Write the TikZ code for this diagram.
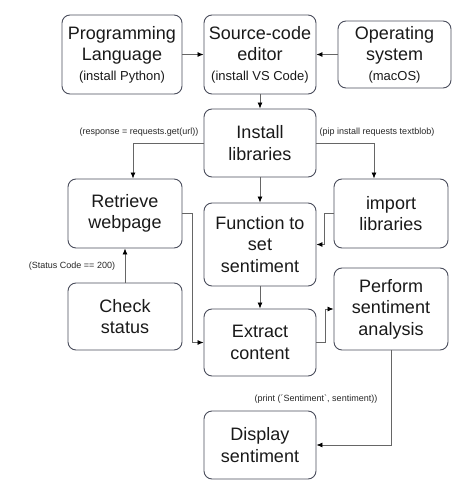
\documentclass[tikz,border=0pt]{standalone}
\usepackage{fontspec}
\setmainfont{Liberation Sans}
\newfontfamily\codefont{Liberation Sans}[Ligatures=TeXOff]
\usepackage{xcolor}
\usetikzlibrary{arrows.meta}
\usetikzlibrary{calc}
\definecolor{boxline}{HTML}{4A4D5C}
\definecolor{wiregray}{HTML}{666666}
\tikzstyle{block}=[draw=boxline, line width=0.9pt, rounded corners=8pt, align=center, inner sep=0pt, text=black!90, font=\fontsize{18}{21.5}\selectfont]
\tikzstyle{link}=[draw=wiregray, line width=0.8pt, -{Latex[length=6pt,width=5pt,color=black]}]
\tikzstyle{codelabel}=[inner sep=0pt, text=black!85, font=\codefont\fontsize{9}{11}\selectfont]
\newcommand{\smallline}[1]{\\[-2pt]{\fontsize{13}{15}\selectfont #1}}

\begin{document}
\begin{tikzpicture}[x=1pt,y=-1pt]
	\useasboundingbox (0,0) rectangle (474,489);
	\node[block, minimum width=120pt, minimum height=79pt] (lang) at (122,54.5) {Programming\\Language\smallline{(install Python)}};
	\node[block, minimum width=112pt, minimum height=79pt] (editor) at (260,54.5) {Source-code\\editor\smallline{(install VS Code)}};
	\node[block, minimum width=113pt, minimum height=67pt] (os) at (394.5,54.5) {Operating\\system\smallline{(macOS)}};
	\node[block, minimum width=112pt, minimum height=68pt] (install) at (260,143) {Install\\libraries};
	\node[block, minimum width=114pt, minimum height=69pt] (retrieve) at (125,213.5) {Retrieve\\webpage};
	\node[block, minimum width=112pt, minimum height=83pt] (func) at (260,244.5) {Function to\\set\\sentiment};
	\node[block, minimum width=114pt, minimum height=69pt] (import) at (391,213.5) {import\\libraries};
	\node[block, minimum width=114pt, minimum height=67pt] (check) at (125,316.5) {Check\\status};
	\node[block, minimum width=114pt, minimum height=82pt] (perform) at (391,309) {Perform\\sentiment\\analysis};
	\node[block, minimum width=112pt, minimum height=67pt] (extract) at (260,342.5) {Extract\\content};
	\node[block, minimum width=112pt, minimum height=68pt] (display) at (260,445) {Display\\sentiment};
	\node[codelabel] (getlbl) at (139,132) {(response = requests.get(url))};
	\node[codelabel] (piplbl) at (377,132) {(pip install requests textblob)};
	\node[codelabel] (statuslbl) at (72,266) {(Status Code == 200)};
	\node[codelabel] (printlbl) at (316,399) {(print (´Sentiment`, sentiment))};
	\draw[link] (lang) -- (editor);
	\draw[link] (os) -- (editor);
	\draw[link] (editor) -- (install);
	\draw[link] (install.west) -| ($(retrieve.north)+(8,0)$);
	\draw[link] (install.east) -| ($(import.north)+(-17,0)$);
	\draw[link] (install) -- (func);
	\draw[link] (import.west) -- ++(-9,0) |- (func.east);
	\draw[link] (retrieve.east) -- ++(10,0) |- (extract.west);
	\draw[link] (check) -- (retrieve);
	\draw[link] (func) -- (extract);
	\draw[link] (extract.east) -- ++(9,0) |- (perform.west);
	\draw[link] (perform.south) |- (display.east);
\end{tikzpicture}
\end{document}
